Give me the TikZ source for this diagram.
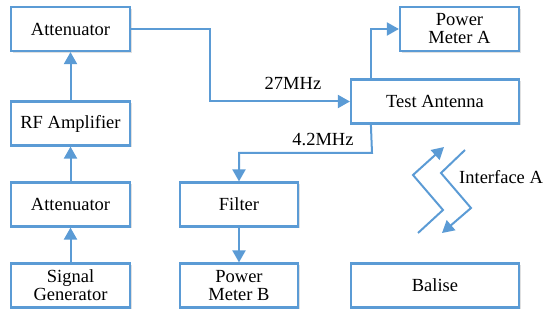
\documentclass[tikz,border=0pt]{standalone}
\usepackage{fontspec}
\setmainfont{Liberation Serif}
\usetikzlibrary{arrows.meta,shadows}
\definecolor{lblue}{RGB}{91,155,213}
\begin{document}
\begin{tikzpicture}[x=1pt,y=-1pt,
  box/.style={draw=lblue,line width=2.2pt,fill=white,rectangle,inner sep=0pt,
    minimum width=119pt,minimum height=44pt,align=center,
    font=\fontsize{18.5}{18}\selectfont,
    general shadow={fill=black!12,shadow xshift=1.8pt,shadow yshift=-1.8pt}},
  conn/.style={draw=lblue,line width=2pt},
  arr/.style={conn,-{Triangle[length=12pt,width=13pt]}},
  lbl/.style={font=\fontsize{18.5}{18}\selectfont,inner sep=0pt}]
\useasboundingbox (0,0) rectangle (550,315);
\node[box] (att1) at (70.5,29) {Attenuator};
\node[box] (rf) at (70.5,123.5) {RF Amplifier};
\node[box] (att2) at (70.5,204.5) {Attenuator};
\node[box] (sig) at (70.5,285.5) {Signal\\Generator};
\node[box,minimum width=118pt] (filt) at (239,204.5) {Filter};
\node[box,minimum width=118pt] (pmb) at (239,285.5) {Power\\Meter B};
\node[box,minimum width=168pt] (ant) at (435,101.5) {Test Antenna};
\node[box] (pma) at (459.5,29) {Power\\Meter A};
\node[box,minimum width=168pt] (bal) at (435,285.5) {Balise};
\draw[arr] (sig) -- (att2);
\draw[arr] (att2) -- (rf);
\draw[arr] (rf) -- (att1);
\draw[arr] (filt) -- (pmb);
\coordinate (k1) at (210,29);
\draw[arr] (att1.east) -- (k1) |- (ant.west);
\coordinate (k2) at ([xshift=21pt]ant.north west);
\draw[arr] (k2) |- (pma.west);
\coordinate (k3) at ([xshift=21pt]ant.south west);
\coordinate (k4) at (372,153);
\draw[arr] (k3) -- (k4) -| (filt.north);
\node[lbl] (l27) at (293,83) {27MHz};
\node[lbl] (l42) at (323,140) {4.2MHz};
\coordinate (z1) at (418,233);
\coordinate (z2) at (443,210);
\coordinate (z3) at (413,175);
\coordinate (z4) at (444,147);
\draw[arr] (z1) -- (z2) -- (z3) -- (z4);
\coordinate (w1) at (465,150);
\coordinate (w2) at (441,173);
\coordinate (w3) at (471,208);
\coordinate (w4) at (442,233);
\draw[arr] (w1) -- (w2) -- (w3) -- (w4);
\node[lbl,anchor=west] (ifa) at (459,177) {Interface A};
\end{tikzpicture}
\end{document}
